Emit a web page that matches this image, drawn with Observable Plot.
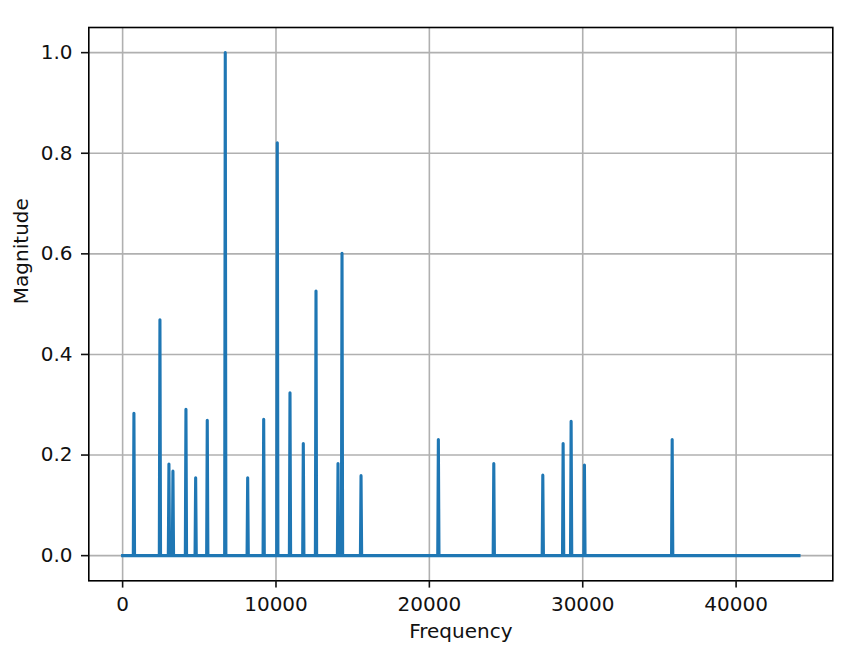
<!DOCTYPE html>
<html>
<head>
<meta charset="utf-8">
<script src="https://cdn.jsdelivr.net/npm/d3@7"></script>
<script src="https://cdn.jsdelivr.net/npm/@observablehq/plot@0.6"></script>
<style>
  html, body { margin: 0; padding: 0; background: #fff; }
  #chart svg { display: block; }
</style>
</head>
<body>
<div id="chart"></div>
<script>
// Peak frequencies (Hz) and magnitudes
const peakFreqs = [737, 2433, 3020, 3281, 4129, 4762, 5519, 6693, 8154, 9198, 10085, 10913, 11781, 12609, 14044, 14305, 15545, 20587, 24201, 27397, 28722, 29243, 30111, 35832];
const peakMags  = [0.283, 0.469, 0.182, 0.168, 0.291, 0.155, 0.269, 1.0, 0.155, 0.271, 0.821, 0.324, 0.223, 0.526, 0.183, 0.601, 0.159, 0.231, 0.183, 0.160, 0.223, 0.267, 0.180, 0.231];
const freqStart = 0;
const freqEnd = 44100;
const peakHalfWidth = 40; // Hz, narrow spike width
const xTicks = [0, 10000, 20000, 30000, 40000];
const yTicks = [0.0, 0.2, 0.4, 0.6, 0.8, 1.0];

// Build the spectrum line: zero baseline with narrow spikes
const spectrum = [{f: freqStart, m: 0}];
peakFreqs.forEach((f, i) => {
  spectrum.push({f: f - peakHalfWidth, m: 0});
  spectrum.push({f: f, m: peakMags[i]});
  spectrum.push({f: f + peakHalfWidth, m: 0});
});
spectrum.push({f: freqEnd, m: 0});
spectrum.sort((a, b) => a.f - b.f);

const xPad = (freqEnd - freqStart) * 0.05;
const yMax = d3.max(peakMags), yMin = 0;
const yPad = (yMax - yMin) * 0.05;

const FONT = "DejaVu Sans, sans-serif";
const FS = 20;

const chart = Plot.plot({
  width: 851,
  height: 654,
  marginLeft: 88.3,
  marginRight: 18.7,
  marginTop: 27,
  marginBottom: 73.7,
  style: {fontFamily: FONT, fontSize: FS + "px", color: "#111", background: "white"},
  x: {domain: [freqStart - xPad, freqEnd + xPad]},
  y: {domain: [yMin - yPad, yMax + yPad]},
  marks: [
    Plot.gridX(xTicks, {stroke: "#b0b0b0", strokeOpacity: 1, strokeWidth: 1.6}),
    Plot.gridY(yTicks, {stroke: "#b0b0b0", strokeOpacity: 1, strokeWidth: 1.6}),
    Plot.line(spectrum, {x: "f", y: "m", stroke: "#1f77b4", strokeWidth: 3.1, strokeLinejoin: "round", strokeLinecap: "square"}),
    Plot.frame({stroke: "black", strokeWidth: 1.6}),
    Plot.axisX(xTicks, {tickSize: 7.3, tickPadding: 8.5, tickFormat: d => String(d), strokeWidth: 1.6, label: null, fontSize: FS, fill: "#111"}),
    Plot.axisY(yTicks, {tickSize: 7.3, tickPadding: 9, tickFormat: d => d.toFixed(1), strokeWidth: 1.6, label: null, fontSize: FS, fill: "#111"}),
    Plot.text(["Frequency"], {frameAnchor: "bottom", dy: 51, lineAnchor: "middle", fontSize: FS, fill: "#111"}),
    Plot.text(["Magnitude"], {frameAnchor: "left", dx: -67, rotate: -90, lineAnchor: "middle", fontSize: FS, fill: "#111"})
  ]
});
document.getElementById("chart").appendChild(chart);
</script>
</body>
</html>
